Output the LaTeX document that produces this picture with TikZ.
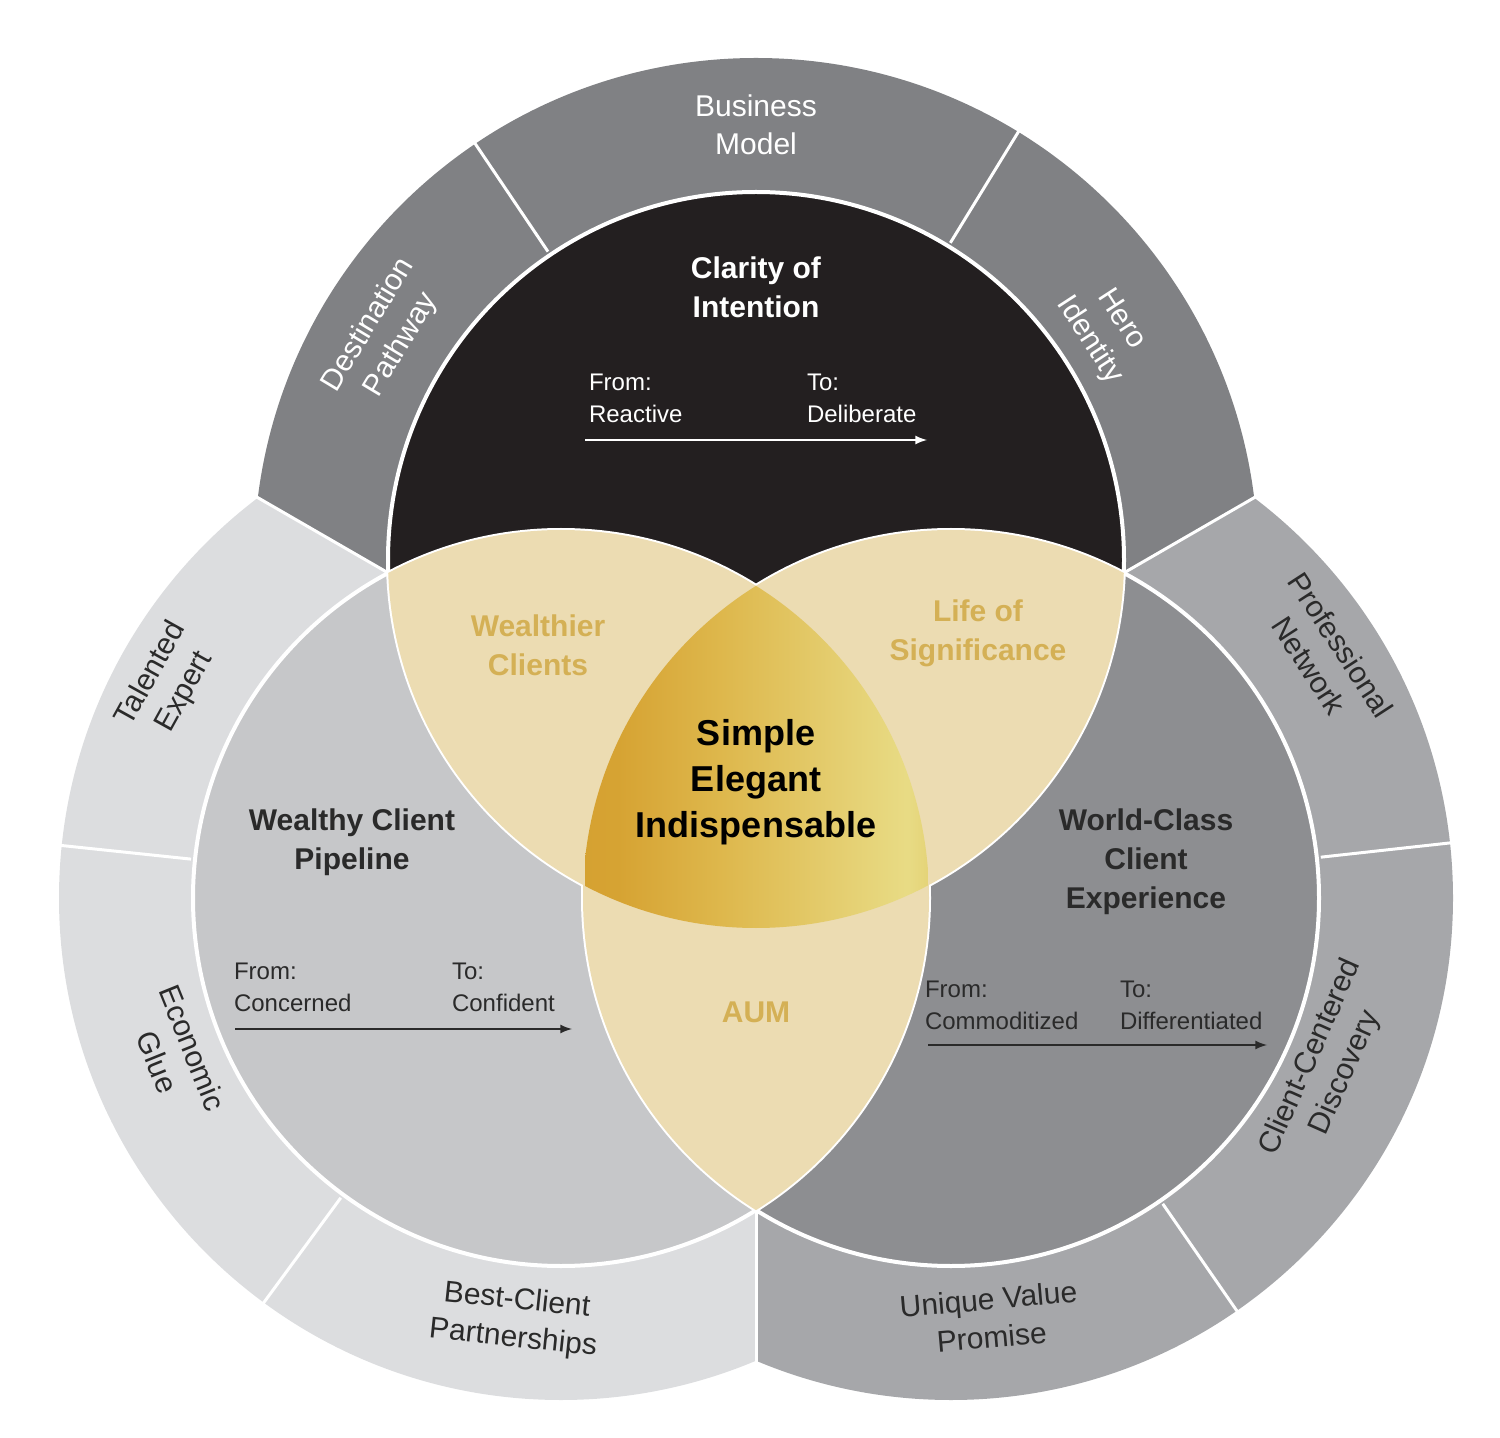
\documentclass[tikz,border=0pt]{standalone}
\usepackage{fontspec}
\setmainfont{Liberation Sans}
\usetikzlibrary{calc}
\definecolor{ringTop}{HTML}{808184}
\definecolor{ringLeft}{HTML}{DCDDDF}
\definecolor{ringRight}{HTML}{A6A7AA}
\definecolor{inTop}{HTML}{231F20}
\definecolor{inLeft}{HTML}{C6C7C9}
\definecolor{inRight}{HTML}{8D8E91}
\definecolor{lens}{HTML}{ECDCB2}
\definecolor{lensText}{HTML}{D4B055}
\definecolor{darkText}{HTML}{2A2A2A}
\pgfdeclarehorizontalshading{goldshade}{100bp}{rgb(0bp)=(0.82,0.60,0.16); rgb(30bp)=(0.84,0.64,0.20); rgb(45bp)=(0.87,0.72,0.30); rgb(72bp)=(0.91,0.86,0.52); rgb(84bp)=(0.86,0.74,0.32); rgb(100bp)=(0.76,0.58,0.08)}
\tikzset{
  outerlbl/.style={font=\fontsize{15}{19}\selectfont, align=center},
  title/.style={font=\fontsize{15}{19.5}\selectfont\bfseries, align=center},
  small/.style={font=\fontsize{12}{16}\selectfont, align=left, anchor=west},
  arr/.style={-latex, line width=1pt},
  sep/.style={white, line width=1.5pt}
}
\begin{document}
\begin{tikzpicture}[x=0.5pt,y=-0.5pt]
\useasboundingbox (0,0) rectangle (1500,1438);
\coordinate (C) at (756,785.3);
\coordinate (T) at (756,560);
\coordinate (L) at (561,898);
\coordinate (R) at (951,898);
% outer rings clipped to Voronoi cells
\begin{scope}\clip (C) -- (-110,285) -- (-110,-300) -- (1622,-300) -- (1622,285) -- cycle;
  \fill[ringTop] (T) circle[radius=502];\end{scope}
\begin{scope}\clip (C) -- (-110,285) -- (-110,1800) -- (756,1800) -- cycle;
  \fill[ringLeft] (L) circle[radius=502];\end{scope}
\begin{scope}\clip (C) -- (1622,285) -- (1622,1800) -- (756,1800) -- cycle;
  \fill[ringRight] (R) circle[radius=502];\end{scope}
% separators
\draw[sep] (C) -- ++(-519.6,-300);
\draw[sep] (C) -- ++(519.6,-300);
\draw[sep] (C) -- (756,1420);
\draw[sep] ($(T)+(-124:372)$) -- ($(T)+(-124:506)$);
\draw[sep] ($(T)+(-58.5:372)$) -- ($(T)+(-58.5:506)$);
\draw[sep] ($(L)+(-174:372)$) -- ($(L)+(-174:506)$);
\draw[sep] ($(L)+(126.3:372)$) -- ($(L)+(126.3:506)$);
\draw[sep] ($(R)+(-6.3:372)$) -- ($(R)+(-6.3:506)$);
\draw[sep] ($(R)+(55.3:372)$) -- ($(R)+(55.3:506)$);
% inner disks
\fill[inLeft] (L) circle[radius=368];
\fill[inRight] (R) circle[radius=368];
\fill[inTop] (T) circle[radius=368];
\draw[white, line width=2pt] (L) circle[radius=368] (R) circle[radius=368] (T) circle[radius=368];
% lenses
\begin{scope}\clip (T) circle[radius=368]; \fill[lens] (L) circle[radius=368]; \fill[lens] (R) circle[radius=368];\end{scope}
\begin{scope}\clip (L) circle[radius=368]; \fill[lens] (R) circle[radius=368];\end{scope}
\begin{scope}\clip (T) circle[radius=368]; \clip (L) circle[radius=368]; \clip (R) circle[radius=368];
  \shade[shading=goldshade] (585,570) rectangle (928,935);\end{scope}
% outer labels
\node[outerlbl, white] (bm) at (756,125) {Business\\Model};
\node[outerlbl, white, rotate=59] (dp) at (385,335) {Destination\\Pathway};
\node[outerlbl, white, rotate=-57] (hi) at (1105,330) {Hero\\Identity};
\node[outerlbl, darkText, rotate=61] (te) at (168,683) {Talented\\Expert};
\node[outerlbl, darkText, rotate=-68] (eg) at (175,1055) {Economic\\Glue};
\node[outerlbl, darkText, rotate=-6] (bc) at (515,1320) {Best-Client\\Partnerships};
\node[outerlbl, darkText, rotate=-57] (pn) at (1325,655) {Professional\\Network};
\node[outerlbl, darkText, rotate=66] (cd) at (1328,1065) {Client-Centered\\Discovery};
\node[outerlbl, darkText, rotate=5] (uv) at (990,1318) {Unique Value\\Promise};
% inner texts
\node[title, white] (ci) at (756,287) {Clarity of\\Intention};
\node[small, white] (f1) at (582,398) {From:\\Reactive};
\node[small, white] (t1) at (800,398) {To:\\Deliberate};
\coordinate (a1s) at (585,440); \coordinate (a1e) at (927,440);
\draw[arr, white] (a1s) -- (a1e);
\node[title, lensText] (wc) at (538,645) {Wealthier\\Clients};
\node[title, lensText] (ls) at (978,633) {Life of\\Significance};
\node[font=\fontsize{18}{23}\selectfont\bfseries, align=center, black] (se) at (756,782) {Simple\\Elegant\\Indispensable};
\node[title, darkText] (wp) at (352,842) {Wealthy Client\\Pipeline};
\node[small, darkText] (f2) at (227,987) {From:\\Concerned};
\node[small, darkText] (t2) at (445,987) {To:\\Confident};
\coordinate (a2s) at (235,1029); \coordinate (a2e) at (572,1029);
\draw[arr, darkText] (a2s) -- (a2e);
\node[title, lensText] (aum) at (756,1012) {AUM};
\node[title, darkText] (wx) at (1146,862) {World-Class\\Client\\Experience};
\node[small, darkText] (f3) at (918,1005) {From:\\Commoditized};
\node[small, darkText] (t3) at (1113,1005) {To:\\Differentiated};
\coordinate (a3s) at (928,1045); \coordinate (a3e) at (1267,1045);
\draw[arr, darkText] (a3s) -- (a3e);
\end{tikzpicture}
\end{document}
